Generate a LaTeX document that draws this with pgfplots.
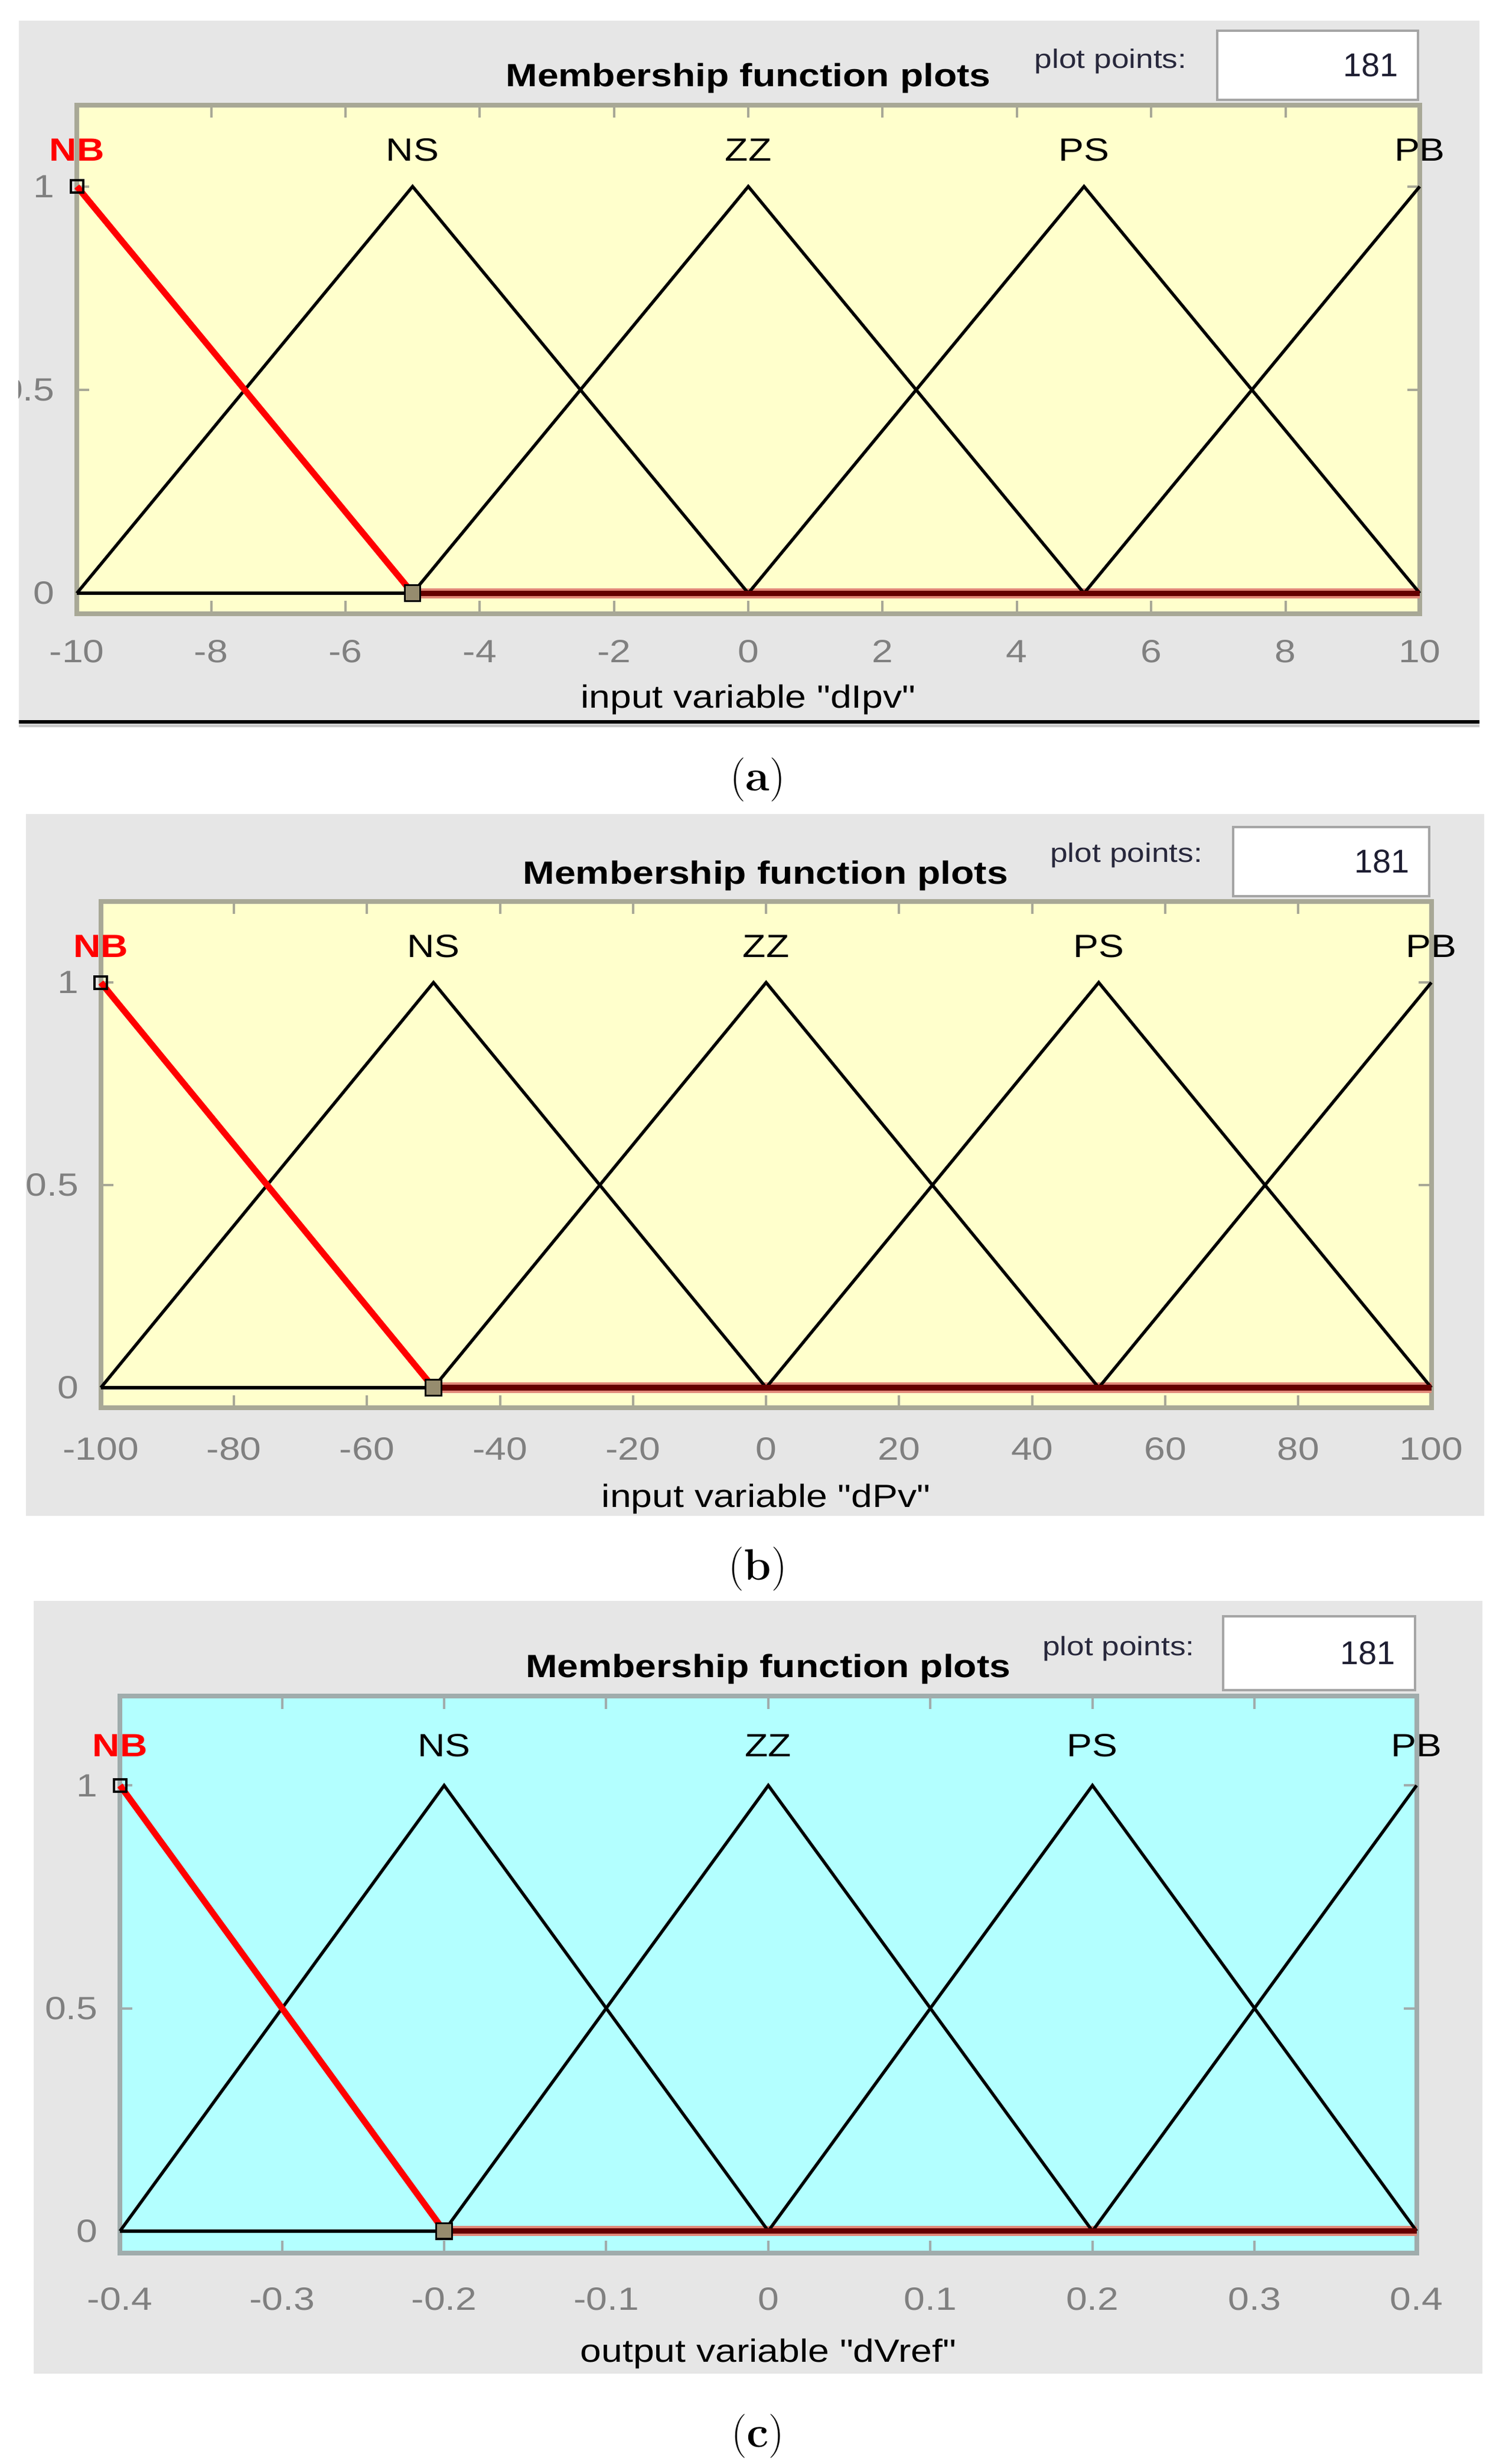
\documentclass[border=0pt]{standalone}
\usepackage{fontspec}
\usepackage{pgfplots}
\pgfplotsset{compat=1.18}

\newfontfamily\mfont[FakeStretch=1.18]{Liberation Sans}
\newfontfamily\nfont{Liberation Sans}
\newcommand{\mflab}{\mfont\fontsize{20.5}{23}\selectfont}

\definecolor{panelgray}{RGB}{230,230,230}
\definecolor{mfyellow}{RGB}{255,255,204}
\definecolor{mfcyan}{RGB}{179,255,255}
\definecolor{framecol}{RGB}{168,168,150}
\definecolor{framecolc}{RGB}{160,172,172}
\definecolor{tickgray}{RGB}{128,128,128}
\definecolor{maroon}{RGB}{100,0,0}
\definecolor{pinkhalo}{RGB}{225,135,120}
\definecolor{markfill}{RGB}{150,140,110}
\definecolor{boxborder}{RGB}{165,165,165}
\definecolor{shadegray}{RGB}{200,200,200}
\definecolor{pptext}{RGB}{40,40,60}
\definecolor{numtext}{RGB}{30,30,50}

\pgfplotsset{
  mfaxis/.style={
    anchor=south west, scale only axis,
    ymin=-0.05, ymax=1.2,
    ytick={0,0.5,1}, yticklabels={0,0.5,1},
    tick align=inside, major tick length=8pt,
    axis line style={draw=framecol, line width=3pt},
    every tick/.style={draw=framecol, line width=1.5pt},
    xticklabel style={font=\mflab, text=tickgray, anchor=center},
    yticklabel style={font=\mflab, text=tickgray, anchor=east, inner sep=0pt, xshift=-14pt},
    xlabel style={font=\mflab, text=black, at={(axis description cs:0.5,0)}, anchor=center},
    axis background/.style={fill=mfyellow},
    clip=false,
  },
  mfline/.style={draw=black, line width=2pt},
}

% one set of five triangles; args = the five peak positions
\newcommand{\mfset}[5]{%
  \addplot[draw=pinkhalo, line width=6.5pt] coordinates {(#2,0) (#5,0)};
  \addplot[only marks, mark=square*, mark size=5pt, mark options={draw=black, fill=markfill, line width=1.2pt}] coordinates {(#2,0)};
  \addplot[mfline] coordinates {(#1,0) (#2,1) (#3,0) (#5,0)};
  \addplot[mfline] coordinates {(#1,0) (#2,0) (#3,1) (#4,0) (#5,0)};
  \addplot[mfline] coordinates {(#1,0) (#3,0) (#4,1) (#5,0)};
  \addplot[mfline] coordinates {(#1,0) (#4,0) (#5,1)};
  \addplot[draw=red, line width=4pt] coordinates {(#1,1) (#2,0)};
  \addplot[draw=maroon, line width=3.5pt] coordinates {(#2,0) (#5,0)};
  \addplot[only marks, mark=square, mark size=4pt, mark options={draw=black, line width=1.5pt}] coordinates {(#1,1)};
  \node[font=\mflab\bfseries, text=red] at (axis cs:#1,1.09) {NB};
  \node[font=\mflab] at (axis cs:#2,1.09) {NS};
  \node[font=\mflab] at (axis cs:#3,1.09) {ZZ};
  \node[font=\mflab] at (axis cs:#4,1.09) {PS};
  \node[font=\mflab] at (axis cs:#5,1.09) {PB};
}

% header: title, "plot points:" and the 181 box
\newcommand{\mfhead}[8]{%
  \node[font=\mflab\bfseries] at (#1pt,-#2pt) {Membership function plots};
  \node[font=\mfont\fontsize{17}{19}\selectfont, text=pptext] at (#3pt,-#4pt) {plot points:};
  \draw[boxborder, line width=1.5pt, fill=white] (#5pt,-#6pt) rectangle (#7pt,-#8pt);
  \node[font=\nfont\fontsize{21}{24}\selectfont, anchor=east, text=numtext] at (#7pt-9pt,-#6pt/2-#8pt/2) {181};
}

\begin{document}
\begin{tikzpicture}
\fill[white] (0,0) rectangle (960pt,-1570.26pt);

% ---------------- (a)
\begin{scope}
\clip (12pt,-13pt) rectangle (943pt,-460pt);
\fill[panelgray] (12pt,-13pt) rectangle (943pt,-460pt);
\mfhead{477}{50}{708}{39}{776}{19.5}{904}{63.5}
\begin{axis}[mfaxis, at={(49pt,-391pt)}, width=856pt, height=324pt,
  xmin=-10, xmax=10,
  xtick={-10,-8,-6,-4,-2,0,2,4,6,8,10},
  xticklabels={-10,-8,-6,-4,-2,0,2,4,6,8,10},
  xticklabel style={yshift=-24pt},
  xlabel style={yshift=-55pt},
  xlabel={input variable "dIpv"}]
\mfset{-10}{-5}{0}{5}{10}
\end{axis}
\end{scope}
\draw[line width=2.5pt] (12pt,-460pt) -- (943pt,-460pt);
\draw[line width=2pt, draw=shadegray] (12pt,-462.5pt) -- (943pt,-462.5pt);
\node[font=\fontsize{28}{32}\selectfont] at (483pt,-497pt) {(\textbf{a})};

% ---------------- (b)
\begin{scope}
\clip (16.5pt,-518.7pt) rectangle (946pt,-966pt);
\fill[panelgray] (16.5pt,-518.7pt) rectangle (946pt,-966pt);
\mfhead{488}{558}{718}{545}{786}{527}{911}{571}
\begin{axis}[mfaxis, at={(64.3pt,-897.2pt)}, width=848.1pt, height=322.7pt,
  xmin=-100, xmax=100,
  xtick={-100,-80,-60,-40,-20,0,20,40,60,80,100},
  xticklabels={-100,-80,-60,-40,-20,0,20,40,60,80,100},
  xticklabel style={yshift=-26pt},
  xlabel style={yshift=-58pt},
  xlabel={input variable "dPv"}]
\mfset{-100}{-50}{0}{50}{100}
\end{axis}
\end{scope}
\node[font=\fontsize{28}{32}\selectfont] at (483pt,-1000pt) {(\textbf{b})};

% ---------------- (c)
\begin{scope}
\clip (21.4pt,-1020.3pt) rectangle (945pt,-1512.7pt);
\fill[panelgray] (21.4pt,-1020.3pt) rectangle (945pt,-1512.7pt);
\mfhead{489.7}{1063.5}{713}{1050.6}{779.5}{1030}{902}{1077}
\begin{axis}[mfaxis, at={(76.5pt,-1436pt)}, width=826.5pt, height=355pt,
  xmin=-0.4, xmax=0.4,
  axis background/.style={fill=mfcyan},
  axis line style={draw=framecolc},
  every tick/.append style={draw=framecolc},
  xtick={-0.4,-0.3,-0.2,-0.1,0,0.1,0.2,0.3,0.4},
  xticklabels={-0.4,-0.3,-0.2,-0.1,0,0.1,0.2,0.3,0.4},
  xticklabel style={yshift=-29pt},
  xlabel style={yshift=-64pt},
  xlabel={output variable "dVref"}]
\mfset{-0.4}{-0.2}{0}{0.2}{0.4}
\end{axis}
\end{scope}
\node[font=\fontsize{28}{32}\selectfont] at (483pt,-1552.7pt) {(\textbf{c})};

\pgfresetboundingbox
\useasboundingbox (0,0) rectangle (960pt,-1570.26pt);
\end{tikzpicture}
\end{document}
